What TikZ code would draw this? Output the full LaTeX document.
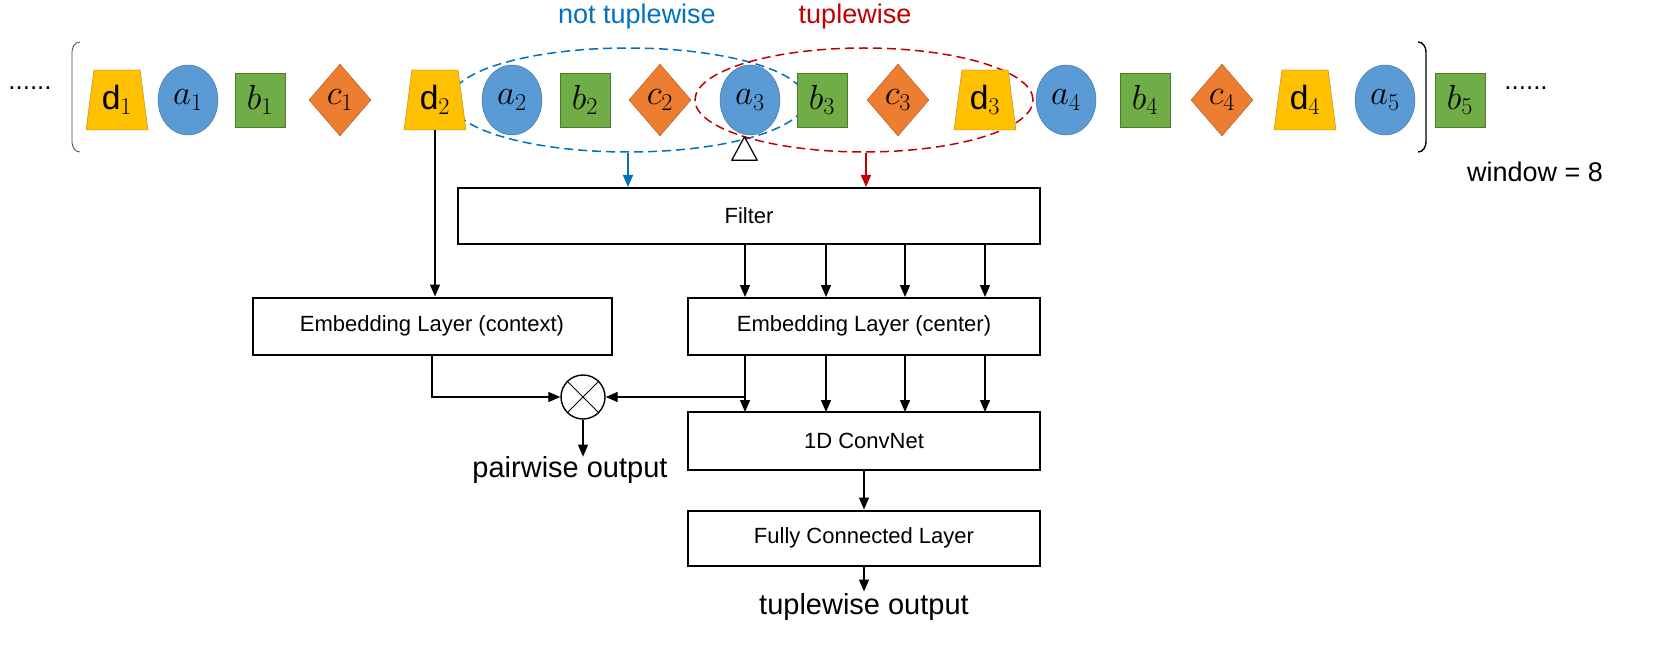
\documentclass[tikz,border=0pt]{standalone}
\usepackage{fontspec}
\setmainfont{Liberation Sans}
\usetikzlibrary{positioning,shapes.geometric,arrows.meta}
\definecolor{cA}{RGB}{91,155,213}
\definecolor{cB}{RGB}{112,173,71}
\definecolor{cC}{RGB}{237,125,49}
\definecolor{cD}{RGB}{255,192,0}
\definecolor{tblue}{RGB}{0,112,192}
\definecolor{tred}{RGB}{192,0,0}
\newcommand{\elm}[1]{\scalebox{1.4}{$#1$}}
\tikzset{
    elA/.style={ellipse,draw=cA!70!black,fill=cA,minimum width=60,minimum height=70,inner sep=0},
    elB/.style={rectangle,draw=cB!70!black,fill=cB,minimum width=50,minimum height=54,inner sep=0},
    elC/.style={diamond,draw=cC!70!black,fill=cC,minimum width=62,minimum height=72,inner sep=0},
    elD/.style={trapezium,trapezium left angle=75,trapezium right angle=75,draw=cD!70!black,fill=cD,
        minimum width=62,minimum height=60,inner sep=0,trapezium stretches body},
    layer/.style={draw,line width=2pt,inner sep=0,font=\fontsize{22}{26}\selectfont},
    arr/.style={-{Triangle[length=12pt,width=10pt]},line width=1.3pt},
    win/.style={dash pattern=on 9pt off 5pt,line width=1.5pt,ellipse},
    every node/.append style={font=\fontsize{24}{28}\selectfont}
}
\begin{document}
\begin{tikzpicture}[x=1pt,y=-1pt]
    \useasboundingbox (0,0) rectangle (1656,671);
    %
    % windows
    \node[win,draw=tblue,minimum width=355,minimum height=104] (nt) at (628,100) {};
    \node[win,draw=tred,minimum width=338,minimum height=104] (tw) at (864,100) {};
    \node[tblue,font=\fontsize{27}{30}\selectfont] (ntlab) at (637,17) {not tuplewise};
    \node[tred,font=\fontsize{27}{30}\selectfont] (twlab) at (855,17) {tuplewise};
    %
    % sequence
    \node[elD] (d1) at (117,100) {\elm{\mathrm{d}_1}};
    \node[elA] (a1) at (188,100) {\elm{a_1}};
    \node[elB] (b1) at (260,100) {\elm{b_1}};
    \node[elC] (c1) at (340,100) {\elm{c_1}};
    \node[elD] (d2) at (435,100) {\elm{\mathrm{d}_2}};
    \node[elA] (a2) at (512,100) {\elm{a_2}};
    \node[elB] (b2) at (585,100) {\elm{b_2}};
    \node[elC] (c2) at (660,100) {\elm{c_2}};
    \node[elA] (a3) at (750,100) {\elm{a_3}};
    \node[elB] (b3) at (822,100) {\elm{b_3}};
    \node[elC] (c3) at (898,100) {\elm{c_3}};
    \node[elD] (d3) at (985,100) {\elm{\mathrm{d}_3}};
    \node[elA] (a4) at (1066,100) {\elm{a_4}};
    \node[elB] (b4) at (1145,100) {\elm{b_4}};
    \node[elC] (c4) at (1222,100) {\elm{c_4}};
    \node[elD] (d4) at (1305,100) {\elm{\mathrm{d}_4}};
    \node[elA] (a5) at (1385,100) {\elm{a_5}};
    \node[elB] (b5) at (1460,100) {\elm{b_5}};
    \node[font=\fontsize{26}{30}\selectfont] (dotsL) at (30,88) {......};
    \node[font=\fontsize{26}{30}\selectfont] (dotsR) at (1526,88) {......};
    \draw[gray!60!black,line width=0.8pt] (80,42) to[out=180,in=90] (72,52) -- (72,142) to[out=-90,in=180] (80,152);
    \draw[black,line width=1.4pt] (1418,42) to[out=0,in=90] (1426,52) -- (1426,142) to[out=-90,in=0] (1418,152);
    \node (tri) at (745,153) {\elm{\triangle}};
    \node[font=\fontsize{27}{30}\selectfont] (win) at (1535,172) {window = 8};
    %
    % network
    \node[layer,minimum width=582,minimum height=56] (filter) at (749,216) {Filter};
    \node[layer,minimum width=359,minimum height=57] (ctx) at (432,326) {Embedding Layer (context)};
    \node[layer,minimum width=352,minimum height=57] (cen) at (864,326) {Embedding Layer (center)};
    \node[draw,circle,line width=1.4pt,minimum size=44,inner sep=0] (mul) at (583,397) {};
    \draw[line width=1pt] (mul.45) -- (mul.225) (mul.135) -- (mul.315);
    \node[layer,minimum width=352,minimum height=58] (conv) at (864,441) {1D ConvNet};
    \node[layer,minimum width=352,minimum height=55] (fc) at (864,538) {Fully Connected Layer};
    \node[font=\fontsize{29}{32}\selectfont] (pair) at (570,470) {pairwise output};
    \node[font=\fontsize{29}{32}\selectfont] (tout) at (864,607) {tuplewise output};
    %
    \draw[arr,tblue] (nt.south) ++(0,0) coordinate (bt) -- (bt |- filter.north);
    \draw[arr,tred] (tw.south) ++(2,0) coordinate (rt) -- (rt |- filter.north);
    \foreach \x in {745,826,905,985}{
        \draw[arr] (\x,244) -- (\x,297);
        \draw[arr] (\x,355) -- (\x,412);
    }
    \draw[arr] (d2.south) -- (d2.south |- ctx.north);
    \draw[arr] (ctx.south) |- (mul.west);
    \draw[arr] (745,397) -- (mul.east);
    \draw[arr] (mul.south) -- ++(0,37);
    \draw[arr] (conv.south) -- (fc.north);
    \draw[arr] (fc.south) -- ++(0,25);
    %
\end{tikzpicture}
\end{document}
